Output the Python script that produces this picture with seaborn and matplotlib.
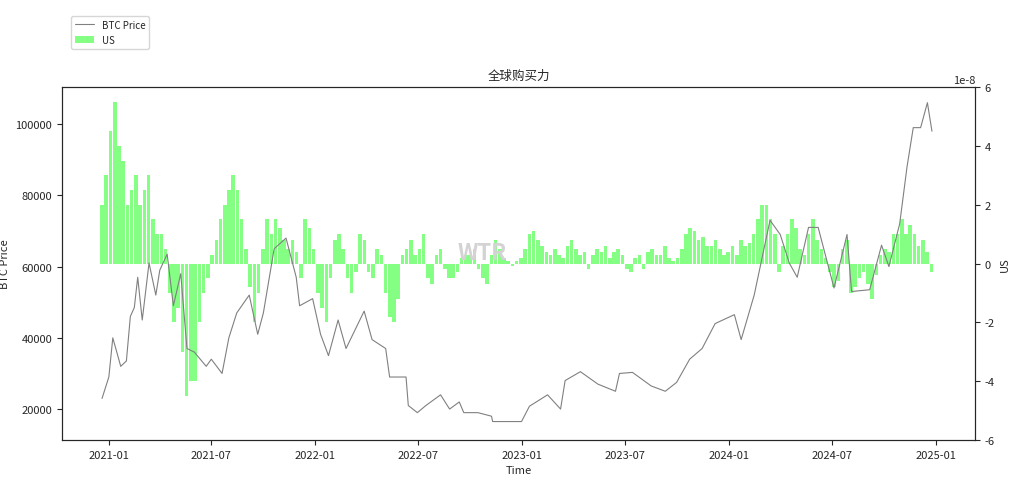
import matplotlib
matplotlib.use("Agg")
import matplotlib.pyplot as plt
import seaborn as sns
import pandas as pd
import numpy as np

sns.set_style("ticks")
plt.rcParams['font.family'] = ['Noto Sans CJK SC', 'DejaVu Sans']
plt.rcParams['axes.unicode_minus'] = False

price_dates = ["2020-12-20","2021-01-01","2021-01-08","2021-01-15","2021-01-22","2021-02-01","2021-02-08","2021-02-15","2021-02-21","2021-03-01","2021-03-13","2021-03-25","2021-04-01","2021-04-14","2021-04-25","2021-05-08","2021-05-19","2021-06-01","2021-06-22","2021-07-01","2021-07-20","2021-08-01","2021-08-15","2021-09-06","2021-09-21","2021-10-01","2021-10-20","2021-11-10","2021-11-28","2021-12-04","2021-12-27","2022-01-10","2022-01-24","2022-02-10","2022-02-24","2022-03-28","2022-04-11","2022-05-05","2022-05-12","2022-06-10","2022-06-14","2022-06-30","2022-07-15","2022-08-10","2022-08-26","2022-09-12","2022-09-20","2022-10-15","2022-11-08","2022-11-10","2022-12-31","2023-01-14","2023-02-15","2023-03-10","2023-03-18","2023-04-14","2023-05-15","2023-06-15","2023-06-22","2023-07-15","2023-08-17","2023-09-11","2023-10-01","2023-10-24","2023-11-15","2023-12-08","2024-01-11","2024-01-23","2024-02-15","2024-03-14","2024-04-01","2024-04-17","2024-05-01","2024-05-21","2024-06-07","2024-07-05","2024-07-28","2024-08-05","2024-09-06","2024-09-27","2024-10-10","2024-10-29","2024-11-11","2024-11-22","2024-12-05","2024-12-17","2024-12-25"]
btc_price = [23000,29000,40000,36000,32000,33500,46000,48500,57000,45000,61000,52000,59000,63500,49000,58000,37000,36000,32000,34000,30000,40000,47000,52000,41000,47000,65000,68000,57000,49000,51000,41000,35000,45000,37000,47500,39500,37000,29000,29000,21000,19000,21000,24000,20000,22000,19000,19000,18000,16500,16500,20800,24000,20000,28000,30500,27000,25000,30000,30300,26500,25000,27500,34000,37000,44000,46500,39500,52000,73000,69000,61000,57000,71000,71000,54000,69000,53000,53500,66000,60000,72000,88000,99000,99000,106000,98000]

us_start = "2020-12-20"
us_end = "2024-12-24"
us_values = [2,3,
 4.5,5.5,4,3.5, 2,2.5,3,2, 2.5,3,1.5,1, 1,0.5,-1,-2, -1.5,-3,-4.5,-4, -4,-2,-1,-0.5,
 0.3,0.8,1.5,2, 2.5,3,2.5,1.5, 0.5,-0.8,-2,-1, 0.5,1.5,1,1.5, 1.2,0.8,0.5,0.8, 0.4,-0.5,1.5,1.2,0.5,
 -1,-1.5,-2,-0.5, 0.8,1,0.5,-0.5, -1,-0.3,1,0.8, -0.3,-0.5,0.5,0.3, -1,-1.8,-2,-1.2, 0.3,0.5,0.8,0.3,
 0.5,1,-0.5,-0.7, 0.3,0.5,-0.2,-0.5, -0.5,-0.3,0.2,0.3, 0.3,0.5,-0.2,-0.5, -0.7,0.3,0.8,0.5, 0.2,0.1,-0.1,0.1,0.2,
 0.5,1,1.1,0.8, 0.6,0.4,0.3,0.5, 0.3,0.2,0.6,0.8, 0.5,0.3,0.4,-0.2, 0.3,0.5,0.4,0.6, 0.2,0.4,0.5,0.3,
 -0.2,-0.3,0.2,0.3, -0.2,0.4,0.5,0.3, 0.3,0.6,0.2,0.1, 0.2,0.5,1,1.2, 1.1,0.8,0.9,0.6, 0.6,0.8,0.5,0.3,0.4,
 0.6,0.3,0.8,0.6, 0.7,1,1.5,2, 2,1.5,1,-0.3, 0.6,1,1.5,1.2, 0.5,0.3,1,1.5, 0.8,0.5,0.2,-0.3,
 -0.8,-0.6,0.5,0.8, -1,-0.8,-0.5,-0.3, -0.7,-1.2,-0.4,0.3, 0.5,0.4,1,1, 1.5,1,1.3,1, 0.6,0.8,0.4,-0.3]

pdf = pd.DataFrame({"Time": pd.to_datetime(price_dates), "BTC Price": btc_price})
us_dates = pd.date_range(us_start, us_end, periods=len(us_values))
step = (us_dates[1] - us_dates[0]).days
us = np.array(us_values) * 1e-8

fig = plt.figure(figsize=(10.14, 4.81), dpi=100)
ax = fig.add_axes([0.061, 0.083, 0.9005, 0.734])
ax2 = ax.twinx()
ax.set_zorder(ax2.get_zorder() + 1)
ax.patch.set_visible(False)

ax2.bar(us_dates, us, width=step * 0.9, color="#33ff33", alpha=0.6, label="US", linewidth=0)
sns.lineplot(data=pdf, x="Time", y="BTC Price", ax=ax, color="grey", linewidth=0.8, label="BTC Price", legend=False)

ax.set_xlim(pd.Timestamp("2020-10-10"), pd.Timestamp("2025-03-11"))
ax.set_ylim(11300, 110400)
ax2.set_ylim(-6e-8, 6e-8)
ax.set_ylabel("BTC Price", fontsize=8)
ax.set_xlabel("Time", fontsize=8)
ax2.set_ylabel("US", fontsize=8)
ax.set_title("全球购买力", fontsize=9)
ax.tick_params(labelsize=8)
ax2.tick_params(labelsize=8)
ax2.yaxis.get_offset_text().set_fontsize(8)
ax.text(0.46, 0.53, "WTR", transform=ax.transAxes, fontsize=16, color="lightgrey",
        ha="center", va="center", fontweight="bold")

h1, l1 = ax.get_legend_handles_labels()
h2, l2 = ax2.get_legend_handles_labels()
fig.legend(h1 + h2, l1 + l2, loc="upper left", bbox_to_anchor=(0.065, 0.975), fontsize=7, frameon=True)

fig.savefig("out.png", dpi=100)
